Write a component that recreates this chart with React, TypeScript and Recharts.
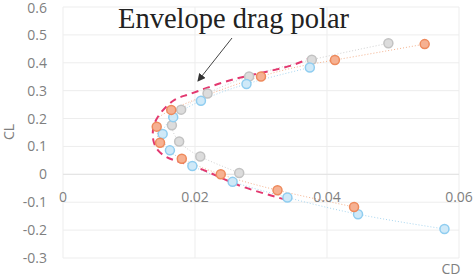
import {
  ComposedChart,
  Scatter,
  Line,
  XAxis,
  YAxis,
  CartesianGrid,
  ReferenceLine,
} from 'recharts';

// axis ticks
const xTicks = [0, 0.02, 0.04, 0.06];
const yTicks = [-0.3, -0.2, -0.1, 0, 0.1, 0.2, 0.3, 0.4, 0.5, 0.6];

const orangeCD = [0.0548, 0.0412, 0.03, 0.0164, 0.0142, 0.0147, 0.018, 0.0239, 0.0325, 0.0441];
const orangeCL = [0.467, 0.41, 0.351, 0.231, 0.171, 0.113, 0.056, 0.0, -0.057, -0.117];

const blueCD = [0.0374, 0.0278, 0.0209, 0.0167, 0.0151, 0.0162, 0.0196, 0.0257, 0.034, 0.0447, 0.0578];
const blueCL = [0.383, 0.324, 0.264, 0.205, 0.145, 0.086, 0.03, -0.027, -0.083, -0.143, -0.196];

const grayCD = [0.0493, 0.0377, 0.0282, 0.0219, 0.0179, 0.0165, 0.0176, 0.0208, 0.0267];
const grayCL = [0.47, 0.411, 0.351, 0.29, 0.232, 0.176, 0.118, 0.064, 0.005];

// envelope drag polar (dashed)
const envelopeCD = [0.0379, 0.0344, 0.0293, 0.0243, 0.0192, 0.0167, 0.0147, 0.0137, 0.0137, 0.0144, 0.0157, 0.0177, 0.0208, 0.0238, 0.0273, 0.0314, 0.034];
const envelopeCL = [0.4225, 0.389, 0.36, 0.33, 0.288, 0.264, 0.217, 0.169, 0.121, 0.086, 0.062, 0.044, 0.02, -0.011, -0.045, -0.075, -0.093];

const toPoints = (cd: number[], cl: number[]) => cd.map((x, i) => ({ cd: x, cl: cl[i] }));

const orange = toPoints(orangeCD, orangeCL);
const blue = toPoints(blueCD, blueCL);
const gray = toPoints(grayCD, grayCL);
const envelope = toPoints(envelopeCD, envelopeCL);

const dot = (fill: string, stroke: string) => (props: any) => (
  <circle cx={props.cx} cy={props.cy} r={4.5} fill={fill} stroke={stroke} strokeWidth={1.5} />
);

const FONT = '"Open Sans", sans-serif';
const tickStyle = { fontSize: 14, fill: '#7f7f7f', fontFamily: FONT };

export default function App() {
  return (
    <div style={{ position: 'absolute', left: 0, top: 0, width: 474, height: 278, background: '#fff' }}>
      <ComposedChart width={474} height={278} margin={{ top: 7, right: 15, bottom: 0, left: 0 }}>
        <CartesianGrid stroke="#ededed" horizontalValues={yTicks} verticalValues={xTicks} />
        <XAxis
          type="number"
          dataKey="cd"
          domain={[0, 0.06]}
          ticks={xTicks}
          height={20}
          axisLine={false}
          tickLine={false}
          tick={{ ...tickStyle, dy: -74 }}
          tickFormatter={(v) => String(v)}
        />
        <YAxis
          type="number"
          dataKey="cl"
          domain={[-0.3, 0.6]}
          ticks={yTicks}
          width={63}
          axisLine={false}
          tickLine={false}
          tickMargin={10}
          tick={tickStyle}
          tickFormatter={(v) => String(Math.round(v * 10) / 10)}
        />
        <ReferenceLine y={0} stroke="#e2e2e2" />
        <Line data={orange} dataKey="cl" type="natural" stroke="#f5b38f" strokeWidth={1} strokeDasharray="1 2" dot={false} isAnimationActive={false} />
        <Line data={blue} dataKey="cl" type="natural" stroke="#a9d7f1" strokeWidth={1} strokeDasharray="1 2" dot={false} isAnimationActive={false} />
        <Line data={gray} dataKey="cl" type="natural" stroke="#d2d2d2" strokeWidth={1} strokeDasharray="1 2" dot={false} isAnimationActive={false} />
        <Scatter data={gray} dataKey="cl" shape={dot('#dcdcdc', '#c2c2c2')} isAnimationActive={false} />
        <Scatter data={blue} dataKey="cl" shape={dot('#cfe9f8', '#8fcdf0')} isAnimationActive={false} />
        <Scatter data={orange} dataKey="cl" shape={dot('#f6b192', '#ee8a5c')} isAnimationActive={false} />
        <Line data={envelope} dataKey="cl" type="natural" stroke="#e3386f" strokeWidth={2} strokeDasharray="7 5" dot={false} isAnimationActive={false} />
      </ComposedChart>
      <svg width={474} height={278} style={{ position: 'absolute', left: 0, top: 0, pointerEvents: 'none' }}>
        <defs>
          <marker id="arrowHead" markerWidth="8" markerHeight="8" refX="7" refY="4" orient="auto" markerUnits="userSpaceOnUse">
            <path d="M0,0 L8,4 L0,8 z" fill="#333" />
          </marker>
        </defs>
        <text x={118} y={28} fontFamily='"Liberation Serif", serif' fontSize={28.5} fill="#222">
          Envelope drag polar
        </text>
        <line x1={232} y1={38} x2={198} y2={81} stroke="#444" strokeWidth={1} markerEnd="url(#arrowHead)" />
        <text x={451} y={274} textAnchor="middle" fontFamily={FONT} fontSize={14} fill="#7f7f7f">
          CD
        </text>
        <text x={14} y={132} textAnchor="middle" transform="rotate(-90, 14, 132)" fontFamily={FONT} fontSize={14} fill="#7f7f7f">
          CL
        </text>
      </svg>
    </div>
  );
}
